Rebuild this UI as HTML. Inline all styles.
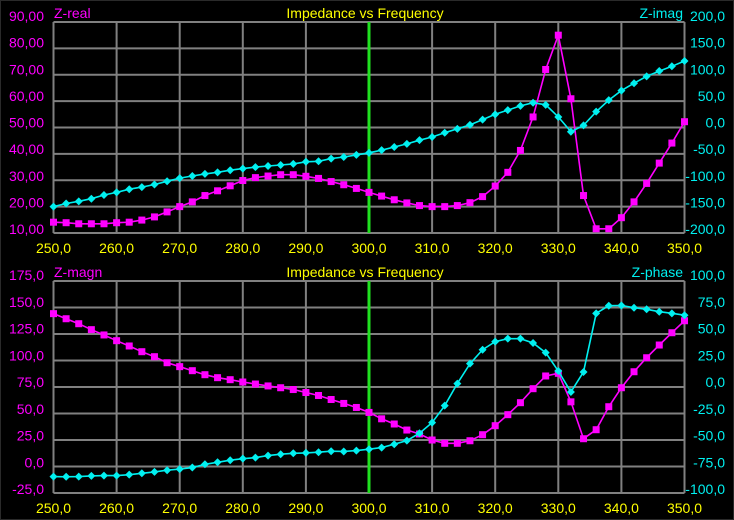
<!DOCTYPE html>
<html><head><meta charset="utf-8"><style>
html,body{margin:0;padding:0;background:#000;}
svg{display:block;font-family:"Liberation Sans",sans-serif;font-size:14px;}
</style></head><body>
<svg id="chart" width="734" height="520" viewBox="0 0 734 520">
<rect x="0.5" y="0.5" width="733" height="519" fill="#000" stroke="#2a2a2a"/>
<g id="top"></g>
<g id="bot"></g>
</svg>
<script>
const freqs = [];
for (let f = 250; f <= 350; f += 2) freqs.push(f);
const xTicks = ["250,0","260,0","270,0","280,0","290,0","300,0","310,0","320,0","330,0","340,0","350,0"];
const zReal = [14.1,13.9,13.5,13.5,13.5,13.9,14.1,14.9,16.1,18.0,20.0,21.8,24.2,26.0,27.9,29.9,31.0,31.6,32.1,32.1,31.5,30.7,29.5,28.3,26.9,25.4,24.0,22.6,21.4,20.4,20.0,20.0,20.4,21.5,23.8,27.8,33.0,41.3,54.0,72.0,85.0,60.9,24.2,11.6,11.6,15.8,21.8,28.8,36.5,44.1,52.2];
const zImag = [-150,-144,-140,-135,-128,-123,-117,-113,-108,-102,-96,-92,-88,-85,-81,-78,-75,-73,-71,-69,-65,-64,-59,-56,-52,-48,-43,-37,-31,-24,-18,-10,-2.5,5,15,25,33,41,47,43,20,-8,4,30,52,70,84,97,107,116,126];
const zMagn = [144.2,139.4,134.7,129.1,124.1,118.7,113.7,108.3,103.6,97.9,94.2,90.4,86.6,83.8,81.9,79.7,77.8,76,74.3,72.6,69.8,67,63.2,59.5,55.7,51,45,40.1,34.4,30.7,25,21.9,21.9,24.3,30,38.5,48.9,60.2,73.4,85.4,87.9,61,26.2,34.7,56.4,74.3,89.4,102.6,114.6,126.2,137.5];
const zPhase = [-84.5,-84.7,-84.5,-83.9,-83.6,-83.6,-82.7,-81.4,-80.1,-78.5,-77.5,-76,-72.9,-71,-69.1,-67.6,-66.6,-64.7,-63.4,-62.5,-62.2,-61.5,-60.6,-60.8,-60,-58.7,-57.2,-54,-50.6,-43.6,-33.6,-17.6,3.2,22,35.2,42.8,45.6,45.6,41.5,32.4,15.1,-4.7,14.2,69.5,76.7,76.9,74.8,73.3,71,69.5,67.7];
const topLeftTicks = ["90,00","80,00","70,00","60,00","50,00","40,00","30,00","20,00","10,00"];
const topRightTicks = ["200,0","150,0","100,0","50,0","0,0","-50,0","-100,0","-150,0","-200,0"];
const botLeftTicks = ["175,0","150,0","125,0","100,0","75,0","50,0","25,0","0,0","-25,0"];
const botRightTicks = ["100,0","75,0","50,0","25,0","0,0","-25,0","-50,0","-75,0","-100,0"];
const markerFreq = 300;

const NS = "http://www.w3.org/2000/svg";
const X0 = 53.5, X1 = 684.5, FMIN = 250, FMAX = 350;
const xs = f => X0 + (f - FMIN) / (FMAX - FMIN) * (X1 - X0);
const MAG = "#ff00ff", CY = "#00f0f0", YEL = "#ffff00";
function mk(parent, tag, attrs) {
  const e = document.createElementNS(NS, tag);
  for (const k in attrs) e.setAttribute(k, attrs[k]);
  parent.appendChild(e);
  return e;
}
function panel(g, y0, y1, lmin, lmax, rmin, rmax, lT, rT, lName, rName, lData, rData, lLabel, rLabel, names) {
  const yl = v => y1 - (v - lmin) / (lmax - lmin) * (y1 - y0);
  const yr = v => y1 - (v - rmin) / (rmax - rmin) * (y1 - y0);
  for (let i = 0; i <= 8; i++) {
    const y = y0 + i * (y1 - y0) / 8;
    const l = mk(g, "line", {x1: X0, x2: X1, y1: y, y2: y, stroke: "#808080", "stroke-width": 2});
    
    
  }
  xTicks.forEach((t, i) => {
    const x = xs(FMIN + i * 10);
    const l = mk(g, "line", {x1: x, x2: x, y1: y0, y2: y1, stroke: "#808080", "stroke-width": 2});
    
    
    const tx = mk(g, "text", {x: x, y: y1 + 20, fill: YEL, "text-anchor": "middle"});
    tx.textContent = t;
    
    
  });
  lT.forEach((t, i) => {
    const tx = mk(g, "text", {x: 44, y: y0 - 1 + i * (y1 - y0 + 2) / 8, fill: MAG, "text-anchor": "end"});
    tx.textContent = t;
    
    
  });
  rT.forEach((t, i) => {
    const tx = mk(g, "text", {x: 725, y: y0 - 1 + i * (y1 - y0 + 2) / 8, fill: CY, "text-anchor": "end"});
    tx.textContent = t;
    
    
  });
  const gl = mk(g, "line", {x1: xs(markerFreq), x2: xs(markerFreq), y1: y0, y2: y1, stroke: "#20e020", "stroke-width": 3});
  
  
  const title = mk(g, "text", {x: 365, y: y0 - 4, fill: YEL, "text-anchor": "middle"});
  title.textContent = "Impedance vs Frequency";
  
  
  const lt = mk(g, "text", {x: 54, y: y0 - 4, fill: MAG});
  lt.textContent = lName;
  
  
  const rt = mk(g, "text", {x: 683, y: y0 - 4, fill: CY, "text-anchor": "end"});
  rt.textContent = rName;
  
  
  // series
  [[lData, yl, MAG, "sq", names[0]], [rData, yr, CY, "dm", names[1]]].forEach(([d, ys, col, m, nm]) => {
    const pts = d.map((v, i) => xs(freqs[i]).toFixed(1) + "," + ys(v).toFixed(1)).join(" ");
    const pl = mk(g, "polyline", {points: pts, fill: "none", stroke: col, "stroke-width": 1.6});
    
    
    d.forEach((v, i) => {
      const x = xs(freqs[i]), y = ys(v);
      let e;
      if (m === "sq") e = mk(g, "rect", {x: x - 3.5, y: y - 3.5, width: 7, height: 7, fill: col});
      else e = mk(g, "polygon", {points: `${x},${y-4} ${x+4},${y} ${x},${y+4} ${x-4},${y}`, fill: col});
      
      
    });
  });
}
panel(document.getElementById("top"), 22, 233, 10, 90, -200, 200, topLeftTicks, topRightTicks, "Z-real", "Z-imag", zReal, zImag, "left-axis-title-z-real", "right-axis-title-z-imag", ["z-real", "z-imag"]);
panel(document.getElementById("bot"), 281, 493, -25, 175, -100, 100, botLeftTicks, botRightTicks, "Z-magn", "Z-phase", zMagn, zPhase, "left-axis-title-z-magn", "right-axis-title-z-phase", ["z-magn", "z-phase"]);
</script>
</body></html>
